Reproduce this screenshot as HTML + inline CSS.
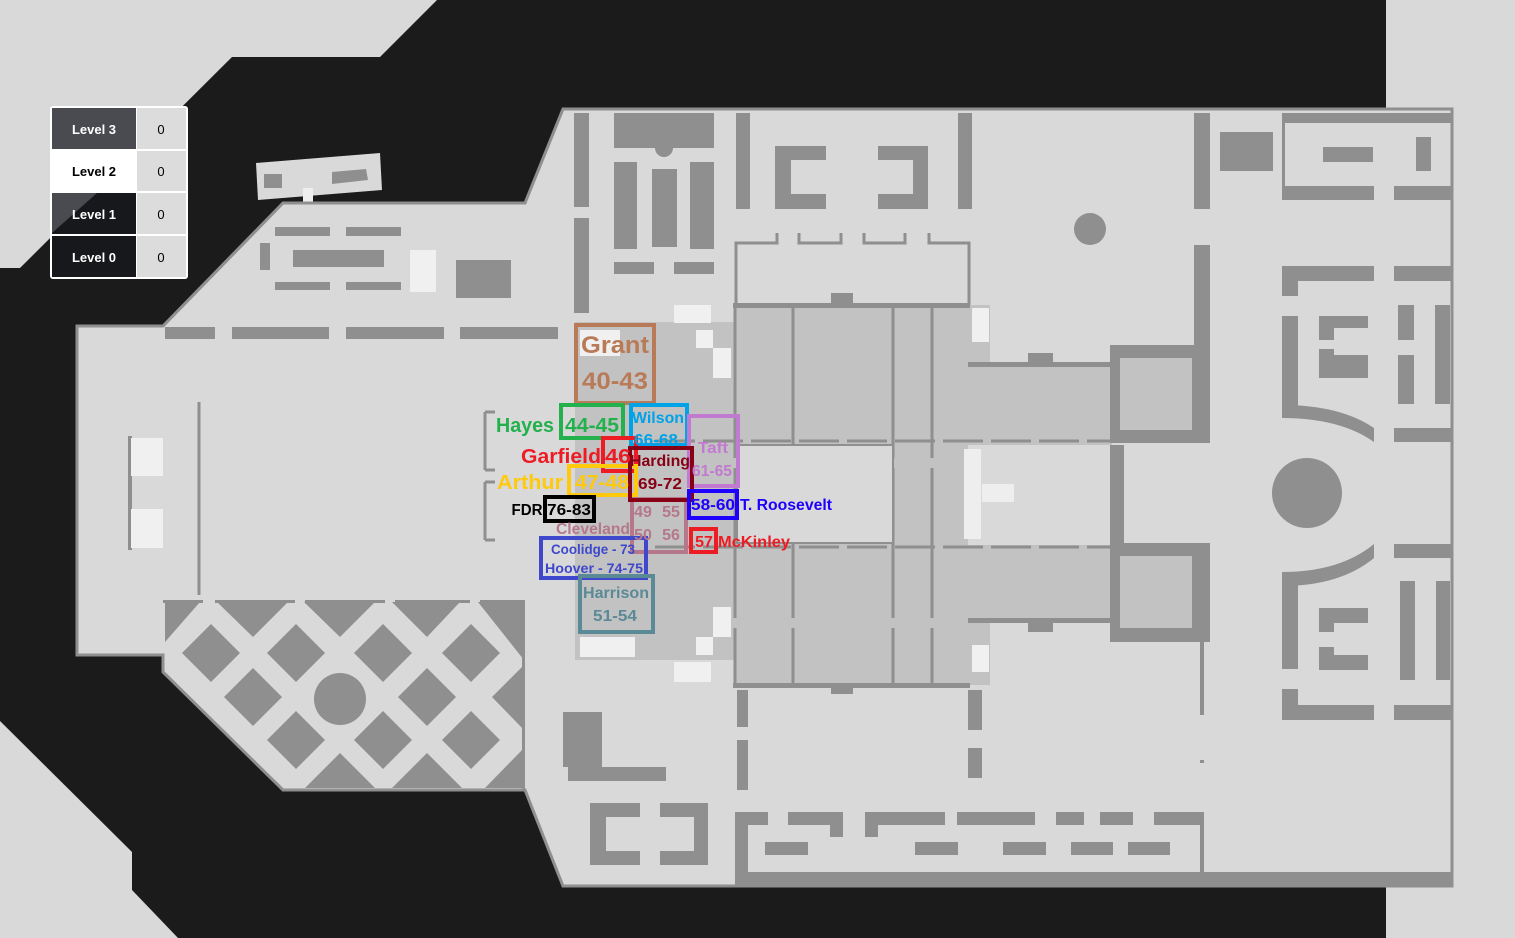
<!DOCTYPE html>
<html><head><meta charset="utf-8"><style>
html,body{margin:0;padding:0;background:#1b1b1b;}
svg{display:block;}
text{font-family:"Liberation Sans",sans-serif;font-weight:bold;}
</style></head><body>
<svg width="1515" height="938" viewBox="0 0 1515 938" xmlns="http://www.w3.org/2000/svg">
<rect width="1515" height="938" fill="#1b1b1b"/>
<polygon points="0,0 437,0 380,57 232,57 20,268 0,268" fill="#d9d9d9"/>
<polygon points="0,721 132,852 132,890 178,938 0,938" fill="#d9d9d9"/>
<rect x="1386" y="0" width="129" height="938" fill="#d9d9d9"/>
<polygon points="256,163 380,153 382,190 258,200" fill="#d9d9d9"/>
<rect x="264" y="174" width="18" height="14" fill="#8f8f8f"/>
<polygon points="332,172 366,169 368,180 332,184" fill="#8f8f8f"/>
<rect x="303" y="188" width="10" height="15" fill="#eeeeee"/>
<!-- building -->
<polygon points="563,109 1452,109 1452,886 563,886 525,790 283,790 163,672 163,655 77,655 77,326 163,326 283,203 525,203" fill="#d9d9d9" stroke="#8f8f8f" stroke-width="3"/>
<g fill="#8f8f8f">
<rect x="275" y="227" width="55" height="9"/><rect x="346" y="227" width="55" height="9"/>
<rect x="260" y="243" width="10" height="27"/><rect x="293" y="250" width="91" height="17"/>
<rect x="275" y="282" width="55" height="8"/><rect x="346" y="282" width="55" height="8"/>
<rect x="456" y="260" width="55" height="38"/>
<rect x="165" y="327" width="50" height="12"/><rect x="232" y="327" width="97" height="12"/>
<rect x="346" y="327" width="98" height="12"/><rect x="460" y="327" width="98" height="12"/>
<rect x="128" y="436" width="4" height="114"/>
<rect x="574" y="113" width="15" height="94"/><rect x="574" y="218" width="15" height="95"/>
<rect x="614" y="113" width="100" height="35"/><circle cx="664" cy="148" r="9"/>
<rect x="614" y="162" width="23" height="87"/><rect x="652" y="169" width="25" height="78"/><rect x="690" y="162" width="24" height="87"/>
<rect x="614" y="262" width="40" height="12"/><rect x="674" y="262" width="40" height="12"/>
<rect x="736" y="113" width="14" height="96"/>
<path d="M775,146h51v14h-35v34h35v15h-51z"/>
<path d="M878,146h50v63h-50v-15h35v-34h-35z"/>
<rect x="958" y="113" width="14" height="96"/>
<circle cx="1090" cy="229" r="16"/>
<rect x="1194" y="113" width="16" height="96"/><rect x="1194" y="245" width="16" height="100"/>
<rect x="1220" y="132" width="53" height="39"/>
<rect x="1282" y="113" width="170" height="10"/>
<rect x="1282" y="186" width="92" height="14"/><rect x="1394" y="186" width="58" height="14"/>
<rect x="1282" y="113" width="3" height="87"/>
<rect x="1323" y="147" width="50" height="15"/><rect x="1416" y="137" width="15" height="34"/>
<rect x="1282" y="266" width="92" height="15"/><rect x="1394" y="266" width="58" height="15"/>
<rect x="1282" y="266" width="16" height="30"/><rect x="1282" y="316" width="16" height="96"/>
<path d="M1282,405 Q1340,405 1374,428 L1374,442 Q1340,418 1282,418z"/>
<rect x="1394" y="428" width="58" height="14"/>
<path d="M1319,316h49v12h-34v12h-15z"/><rect x="1319" y="355" width="49" height="23"/><rect x="1319" y="349" width="15" height="10"/>
<rect x="1398" y="305" width="16" height="35"/><rect x="1398" y="355" width="16" height="49"/><rect x="1435" y="305" width="15" height="99"/>
<circle cx="1307" cy="493" r="35"/>
<rect x="1394" y="544" width="58" height="14"/>
<path d="M1282,572 Q1340,572 1374,544 L1374,558 Q1340,586 1282,586z"/>
<rect x="1282" y="572" width="16" height="97"/><rect x="1282" y="689" width="16" height="31"/>
<rect x="1282" y="705" width="92" height="15"/><rect x="1394" y="705" width="58" height="15"/>
<rect x="1319" y="608" width="49" height="15"/><rect x="1319" y="623" width="15" height="9"/>
<rect x="1319" y="647" width="15" height="10"/><rect x="1319" y="655" width="49" height="15"/>
<rect x="1400" y="581" width="15" height="99"/><rect x="1436" y="581" width="14" height="99"/>
<rect x="1200" y="642" width="4" height="73"/><rect x="1200" y="760" width="4" height="3"/>
<rect x="563" y="712" width="39" height="55"/><rect x="568" y="767" width="98" height="14"/>
<path d="M590,803h50v14h-34v34h34v14h-50z"/>
<path d="M660,803h48v62h-48v-14h34v-34h-34z"/>
<rect x="737" y="690" width="11" height="37"/><rect x="737" y="740" width="11" height="50"/>
<rect x="968" y="690" width="14" height="40"/><rect x="968" y="748" width="14" height="30"/>
<rect x="735" y="812" width="33" height="13"/><rect x="788" y="812" width="55" height="13"/><rect x="830" y="812" width="13" height="25"/>
<rect x="865" y="812" width="80" height="13"/><rect x="865" y="812" width="13" height="25"/><rect x="957" y="812" width="78" height="13"/>
<rect x="1056" y="812" width="28" height="13"/><rect x="1100" y="812" width="33" height="13"/><rect x="1154" y="812" width="48" height="13"/>
<rect x="1200" y="812" width="4" height="60"/>
<rect x="765" y="842" width="43" height="13"/><rect x="915" y="842" width="43" height="13"/><rect x="1003" y="842" width="43" height="13"/>
<rect x="1071" y="842" width="42" height="13"/><rect x="1128" y="842" width="42" height="13"/>
<rect x="735" y="872" width="717" height="14"/>
<rect x="735" y="812" width="13" height="74"/>
<polygon points="217,602 288,602 253,637"/><polygon points="304,602 375,602 340,637"/><polygon points="392,602 460,602 427,637"/>
<polygon points="165,602 200,602 165,642"/><polygon points="478,602 524,602 524,660"/>
<polygon points="211,624 240,653 211,682 182,653"/><polygon points="296,624 325,653 296,682 267,653"/>
<polygon points="383,624 412,653 383,682 354,653"/><polygon points="471,624 500,653 471,682 442,653"/>
<polygon points="253,668 282,697 253,726 224,697"/><circle cx="340" cy="699" r="26"/>
<polygon points="427,668 456,697 427,726 398,697"/><polygon points="524,665 524,730 492,697"/>
<polygon points="296,711 325,740 296,769 267,740"/><polygon points="383,711 412,740 383,769 354,740"/>
<polygon points="471,711 500,740 471,769 442,740"/>
<polygon points="340,753 375,788 305,788"/><polygon points="427,753 462,788 392,788"/><polygon points="524,748 524,788 485,788"/>
</g>
<g fill="#8f8f8f"><rect x="163" y="600" width="40" height="3"/><rect x="215" y="600" width="80" height="3"/><rect x="305" y="600" width="80" height="3"/><rect x="395" y="600" width="75" height="3"/><rect x="480" y="600" width="44" height="3"/></g>
<rect x="522" y="600" width="3" height="190" fill="#8f8f8f"/>
<rect x="131" y="438" width="32" height="38" fill="#f0f0f0"/><rect x="131" y="509" width="32" height="39" fill="#f0f0f0"/>
<rect x="410" y="250" width="26" height="42" fill="#f0f0f0"/>
<g stroke="#8f8f8f" stroke-width="3" fill="none">
<path d="M199,402V595"/><path d="M485,412V470M485,482V540M485,412h10M485,470h10M485,482h10M485,540h10"/>
<path d="M736,313V243h41v-10M799,233v10h42v-10M864,233v10h41v-10M929,233v10h40v62"/>
</g>
<g fill="#c2c2c2">
<rect x="575" y="322" width="160" height="338"/>
<rect x="735" y="305" width="233" height="380"/>
<rect x="932" y="365" width="180" height="80"/>
<rect x="932" y="545" width="180" height="75"/>
<rect x="968" y="305" width="22" height="60"/>
<rect x="968" y="620" width="22" height="65"/>
</g>
<g fill="#8f8f8f">
<rect x="733" y="303" width="237" height="5"/><rect x="831" y="293" width="22" height="12"/>
<rect x="733" y="683" width="237" height="5"/><rect x="831" y="685" width="22" height="9"/>
<rect x="1110" y="345" width="100" height="98"/><rect x="1110" y="543" width="100" height="99"/>
<rect x="968" y="362" width="145" height="5"/><rect x="968" y="618" width="145" height="5"/>
<rect x="1028" y="353" width="25" height="12"/><rect x="1028" y="620" width="25" height="12"/>
</g>
<rect x="1120" y="358" width="72" height="72" fill="#c2c2c2"/><rect x="1120" y="556" width="72" height="72" fill="#c2c2c2"/>
<rect x="1110" y="445" width="14" height="98" fill="#8f8f8f"/>
<g stroke="#8f8f8f" stroke-width="3">
<path d="M793,308V683M893,308V683M932,308V683M735,308V685" stroke-dasharray="150 10"/>
<path d="M655,441H1110M655,547H1110" stroke-dasharray="40 8"/>
</g>
<rect x="737" y="445" width="156" height="98" fill="#d9d9d9" stroke="#8f8f8f" stroke-width="2"/>
<rect x="982" y="447" width="126" height="96" fill="#d9d9d9"/>
<rect x="964" y="449" width="17" height="90" fill="#eeeeee"/><rect x="982" y="484" width="32" height="18" fill="#eeeeee"/>
<g fill="#f0f0f0">
<rect x="674" y="305" width="37" height="18"/><rect x="696" y="330" width="17" height="18"/><rect x="713" y="348" width="18" height="30"/>
<rect x="972" y="308" width="17" height="34"/>
<rect x="674" y="662" width="37" height="20"/><rect x="696" y="637" width="17" height="18"/><rect x="713" y="607" width="18" height="30"/>
<rect x="580" y="637" width="55" height="20"/><rect x="972" y="645" width="17" height="27"/>
<rect x="580" y="330" width="40" height="26"/>
</g>
<g fill="none" stroke-width="4">
<rect x="576" y="325" width="78" height="78" stroke="#b97a57"/>
<rect x="561" y="405" width="62" height="33" stroke="#22b14c"/>
<rect x="631" y="405" width="56" height="40" stroke="#00a2e8"/>
<rect x="689" y="416" width="49" height="70" stroke="#c27ad0"/>
<rect x="603" y="438" width="33" height="33" stroke="#ed1c24"/>
<rect x="569" y="466" width="67" height="29" stroke="#ffc90e"/>
<rect x="632" y="499" width="54" height="53" stroke="#b5788a"/>
<rect x="630" y="448" width="62" height="52" stroke="#880015"/>
<rect x="545" y="497" width="49" height="24" stroke="#000000"/>
<rect x="689" y="491" width="48" height="27" stroke="#1e00ff"/>
<rect x="691" y="529" width="25" height="23" stroke="#ed1c24"/>
<rect x="541" y="538" width="105" height="40" stroke="#3f48cc"/>
<rect x="580" y="576" width="73" height="56" stroke="#5a8a96"/>
</g>
<g text-anchor="middle">
<text x="615" y="353" font-size="24" fill="#b97a57" textLength="68" lengthAdjust="spacingAndGlyphs">Grant</text>
<text x="615" y="389" font-size="24" fill="#b97a57" textLength="66" lengthAdjust="spacingAndGlyphs">40-43</text>
<text x="525" y="432" font-size="20" fill="#22b14c" textLength="58" lengthAdjust="spacingAndGlyphs">Hayes</text>
<text x="592" y="432" font-size="20" fill="#22b14c" textLength="54" lengthAdjust="spacingAndGlyphs">44-45</text>
<text x="658" y="423" font-size="16" fill="#00a2e8" textLength="52" lengthAdjust="spacingAndGlyphs">Wilson</text>
<text x="656" y="445" font-size="16" fill="#00a2e8" textLength="44" lengthAdjust="spacingAndGlyphs">66-68</text>
<text x="713" y="453" font-size="16" fill="#c27ad0" textLength="30" lengthAdjust="spacingAndGlyphs">Taft</text>
<text x="712" y="476" font-size="16" fill="#c27ad0" textLength="40" lengthAdjust="spacingAndGlyphs">61-65</text>
<text x="561" y="463" font-size="20" fill="#ed1c24" textLength="80" lengthAdjust="spacingAndGlyphs">Garfield</text>
<text x="618" y="463" font-size="20" fill="#ed1c24" textLength="26" lengthAdjust="spacingAndGlyphs">46</text>
<text x="660" y="466" font-size="16" fill="#880015" textLength="60" lengthAdjust="spacingAndGlyphs">Harding</text>
<text x="660" y="489" font-size="16" fill="#880015" textLength="44" lengthAdjust="spacingAndGlyphs">69-72</text>
<text x="530" y="489" font-size="20" fill="#ffc90e" textLength="66" lengthAdjust="spacingAndGlyphs">Arthur</text>
<text x="602" y="489" font-size="20" fill="#ffc90e" textLength="54" lengthAdjust="spacingAndGlyphs">47-48</text>
<text x="527" y="515" font-size="16" fill="#000" textLength="31" lengthAdjust="spacingAndGlyphs">FDR</text>
<text x="569" y="515" font-size="16" fill="#000" textLength="44" lengthAdjust="spacingAndGlyphs">76-83</text>
<text x="713" y="510" font-size="16" fill="#1e00ff" textLength="44" lengthAdjust="spacingAndGlyphs">58-60</text>
<text x="786" y="510" font-size="16" fill="#1e00ff" textLength="92" lengthAdjust="spacingAndGlyphs">T. Roosevelt</text>
<text x="593" y="534" font-size="16" fill="#b5788a" textLength="74" lengthAdjust="spacingAndGlyphs">Cleveland</text>
<text x="643" y="517" font-size="16" fill="#b5788a">49</text><text x="671" y="517" font-size="16" fill="#b5788a">55</text>
<text x="643" y="540" font-size="16" fill="#b5788a">50</text><text x="671" y="540" font-size="16" fill="#b5788a">56</text>
<text x="704" y="547" font-size="16" fill="#ed1c24">57</text>
<text x="754" y="547" font-size="16" fill="#ed1c24" textLength="72" lengthAdjust="spacingAndGlyphs">McKinley</text>
<text x="593" y="554" font-size="14" fill="#3f48cc" textLength="84" lengthAdjust="spacingAndGlyphs">Coolidge - 73</text>
<text x="594" y="573" font-size="14" fill="#3f48cc" textLength="98" lengthAdjust="spacingAndGlyphs">Hoover - 74-75</text>
<text x="616" y="598" font-size="16" fill="#5a8a96" textLength="66" lengthAdjust="spacingAndGlyphs">Harrison</text>
<text x="615" y="621" font-size="16" fill="#5a8a96" textLength="44" lengthAdjust="spacingAndGlyphs">51-54</text>
</g>
<rect x="50" y="106" width="138" height="173" rx="3" fill="#ffffff"/>
<rect x="52" y="108" width="84" height="41" fill="#4a4b50"/>
<rect x="52" y="151" width="84" height="40" fill="#ffffff"/>
<rect x="52" y="193" width="84" height="41" fill="#17181c"/>
<polygon points="52,193 97,193 52,233" fill="#4a4b50"/>
<rect x="52" y="236" width="84" height="41" fill="#17181c"/>
<rect x="137" y="108" width="49" height="41" fill="#dcdcdc"/>
<rect x="137" y="151" width="49" height="40" fill="#dcdcdc"/>
<rect x="137" y="193" width="49" height="41" fill="#dcdcdc"/>
<rect x="137" y="236" width="49" height="41" fill="#dcdcdc"/>
<g font-size="13" text-anchor="middle">
<text x="94" y="134" fill="#fff">Level 3</text>
<text x="94" y="176" fill="#000">Level 2</text>
<text x="94" y="219" fill="#fff">Level 1</text>
<text x="94" y="262" fill="#fff">Level 0</text>
<text x="161" y="134" fill="#000" style="font-weight:normal">0</text>
<text x="161" y="176" fill="#000" style="font-weight:normal">0</text>
<text x="161" y="219" fill="#000" style="font-weight:normal">0</text>
<text x="161" y="262" fill="#000" style="font-weight:normal">0</text>
</g>
</svg>
</body></html>
